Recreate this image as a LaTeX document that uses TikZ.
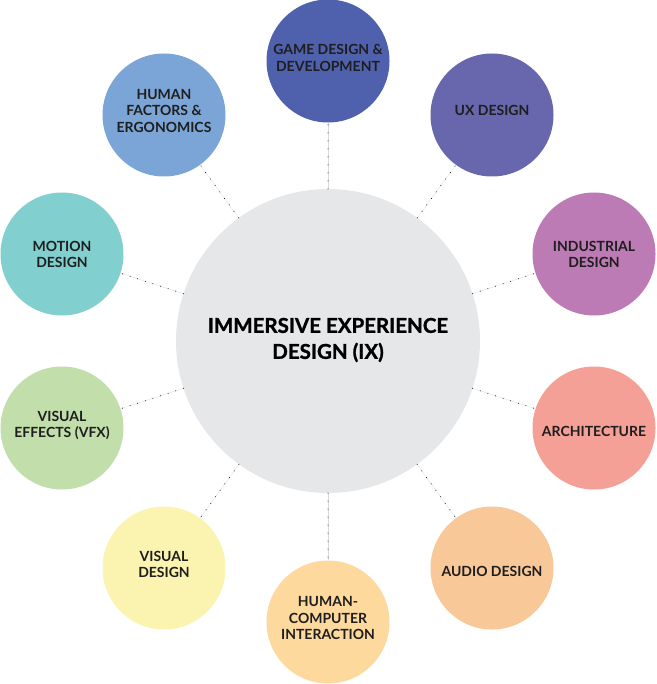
\documentclass[tikz,border=0pt]{standalone}
\usepackage{fontspec}
\setmainfont{Lato}
\newfontfamily\heavyfont{Lato}[BoldFeatures={FakeBold=1.2}]
\definecolor{cCenter}{HTML}{E6E7E9}
\definecolor{cGame}{HTML}{4F61AD}
\definecolor{cUX}{HTML}{6866AC}
\definecolor{cInd}{HTML}{BC7BB4}
\definecolor{cArch}{HTML}{F4A097}
\definecolor{cAudio}{HTML}{F9C899}
\definecolor{cHCI}{HTML}{FDD99D}
\definecolor{cVis}{HTML}{FBF4B0}
\definecolor{cVFX}{HTML}{C1DEAB}
\definecolor{cMotion}{HTML}{82CFD0}
\definecolor{cHF}{HTML}{7CA5D7}
\definecolor{cText}{HTML}{1E1E1E}
\tikzset{
  hub/.style={circle, minimum size=304pt, inner sep=0pt, fill=cCenter},
  outer/.style={circle, minimum size=123pt, inner sep=0pt, fill=#1},
  lbl/.style={align=center, text=cText, inner sep=0pt,
    font=\bfseries\fontsize{14}{16.5}\selectfont},
  hublbl/.style={align=center, text=black, inner sep=0pt,
    font=\heavyfont\bfseries\fontsize{20.5}{26}\selectfont},
  conn/.style={draw=gray!30, line width=0.3pt},
  dots/.style={draw=black, line width=1pt, line cap=round, dash pattern=on 0pt off 8pt}
}
\begin{document}
\begin{tikzpicture}[x=1pt,y=-1pt]
\useasboundingbox (0,0) rectangle (656,684);
\node[hub] (c) at (328,341) {};
\node[outer=cGame] (g) at (328,61) {};
\node[outer=cUX] (ux) at (492,115) {};
\node[outer=cInd] (ind) at (594,254) {};
\node[outer=cArch] (ar) at (594,428) {};
\node[outer=cAudio] (au) at (492,568) {};
\node[outer=cHCI] (hci) at (328,622) {};
\node[outer=cVis] (vd) at (164,568) {};
\node[outer=cVFX] (vfx) at (62,428) {};
\node[outer=cMotion] (mo) at (62,254) {};
\node[outer=cHF] (hf) at (164,115) {};
\foreach \n in {g,ux,ind,ar,au,hci,vd,vfx,mo,hf}{
  \draw[conn] (c) -- (\n);
  \draw[dots] (c) -- (\n);
}
\node[hublbl] (ct) at (328,340) {IMMERSIVE EXPERIENCE\\DESIGN (IX)};
\node[lbl] (gt) at (328,58) {GAME DESIGN \&\\DEVELOPMENT};
\node[lbl] (uxt) at (492,110) {UX DESIGN};
\node[lbl] (indt) at (594,254.5) {INDUSTRIAL\\DESIGN};
\node[lbl] (art) at (594,431) {ARCHITECTURE};
\node[lbl] (aut) at (492,571) {AUDIO DESIGN};
\node[lbl] (hcit) at (328,618) {HUMAN-\\COMPUTER\\INTERACTION};
\node[lbl] (vdt) at (164,564.5) {VISUAL\\DESIGN};
\node[lbl] (vfxt) at (62,425.5) {VISUAL\\EFFECTS (VFX)};
\node[lbl] (mot) at (62,254.5) {MOTION\\DESIGN};
\node[lbl] (hft) at (164,110.7) {HUMAN\\FACTORS \&\\ERGONOMICS};
\end{tikzpicture}
\end{document}
